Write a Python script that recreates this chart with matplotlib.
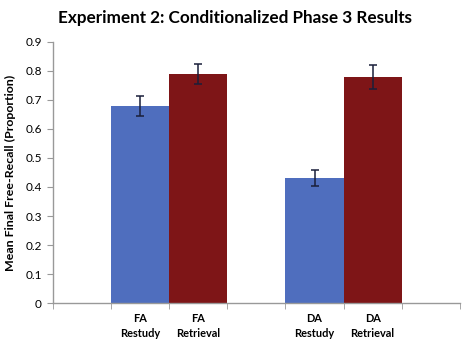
import matplotlib
matplotlib.use("Agg")
import matplotlib.pyplot as plt
import numpy as np

plt.rcParams['font.family'] = ['Lato', 'DejaVu Sans']

categories = ["", "FA\nRestudy", "FA\nRetrieval", "", "DA\nRestudy", "DA\nRetrieval", ""]
means = [0, 0.68, 0.79, 0, 0.43, 0.78, 0]
errors = [0, 0.034, 0.034, 0, 0.028, 0.041, 0]
colors = ["none", "#4F6EBE", "#7E1517", "none", "#4F6EBE", "#7E1517", "none"]

fig = plt.figure(figsize=(4.74, 3.46), dpi=100)
ax = fig.add_axes([0.112, 0.124, 0.858, 0.755])

x = np.arange(len(categories))
for xi, m, e, c in zip(x, means, errors, colors):
    if c == "none":
        continue
    ax.bar(xi, m, width=1.0, color=c, edgecolor="none", zorder=2)
    ax.errorbar(xi, m, yerr=e, fmt="none", ecolor="#1a1f3a", elinewidth=1.1,
                capsize=3, capthick=1.1, zorder=3)

ax.set_xlim(-0.5, len(categories) - 0.5)
ax.set_ylim(0, 0.9)
ax.set_yticks(np.arange(0, 0.91, 0.1))
ax.set_yticklabels(["0"] + [f"{v:.1f}" for v in np.arange(0.1, 0.91, 0.1)])

# category labels centred under bars, ticks on the category boundaries
ax.set_xticks(x)
ax.set_xticklabels(categories, fontweight="bold", fontsize=7.9, linespacing=1.45)
ax.tick_params(axis="x", which="major", length=0, pad=7)
ax.set_xticks(np.arange(-0.5, len(categories), 1.0), minor=True)
ax.tick_params(axis="x", which="minor", length=4, color="#999999", direction="out")
ax.tick_params(axis="y", length=4, color="#999999", labelsize=8.5, pad=4)

for s in ["top", "right"]:
    ax.spines[s].set_visible(False)
for s in ["left", "bottom"]:
    ax.spines[s].set_color("#999999")
    ax.spines[s].set_linewidth(1.0)

ax.set_ylabel("Mean Final Free-Recall (Proportion)", fontweight="bold", fontsize=8.9)
ax.yaxis.set_label_coords(-0.091, 0.5)
fig.suptitle("Experiment 2: Conditionalized Phase 3 Results", fontweight="bold",
             fontsize=12.3, x=0.495, y=0.972)

fig.savefig("out.png", dpi=100)
